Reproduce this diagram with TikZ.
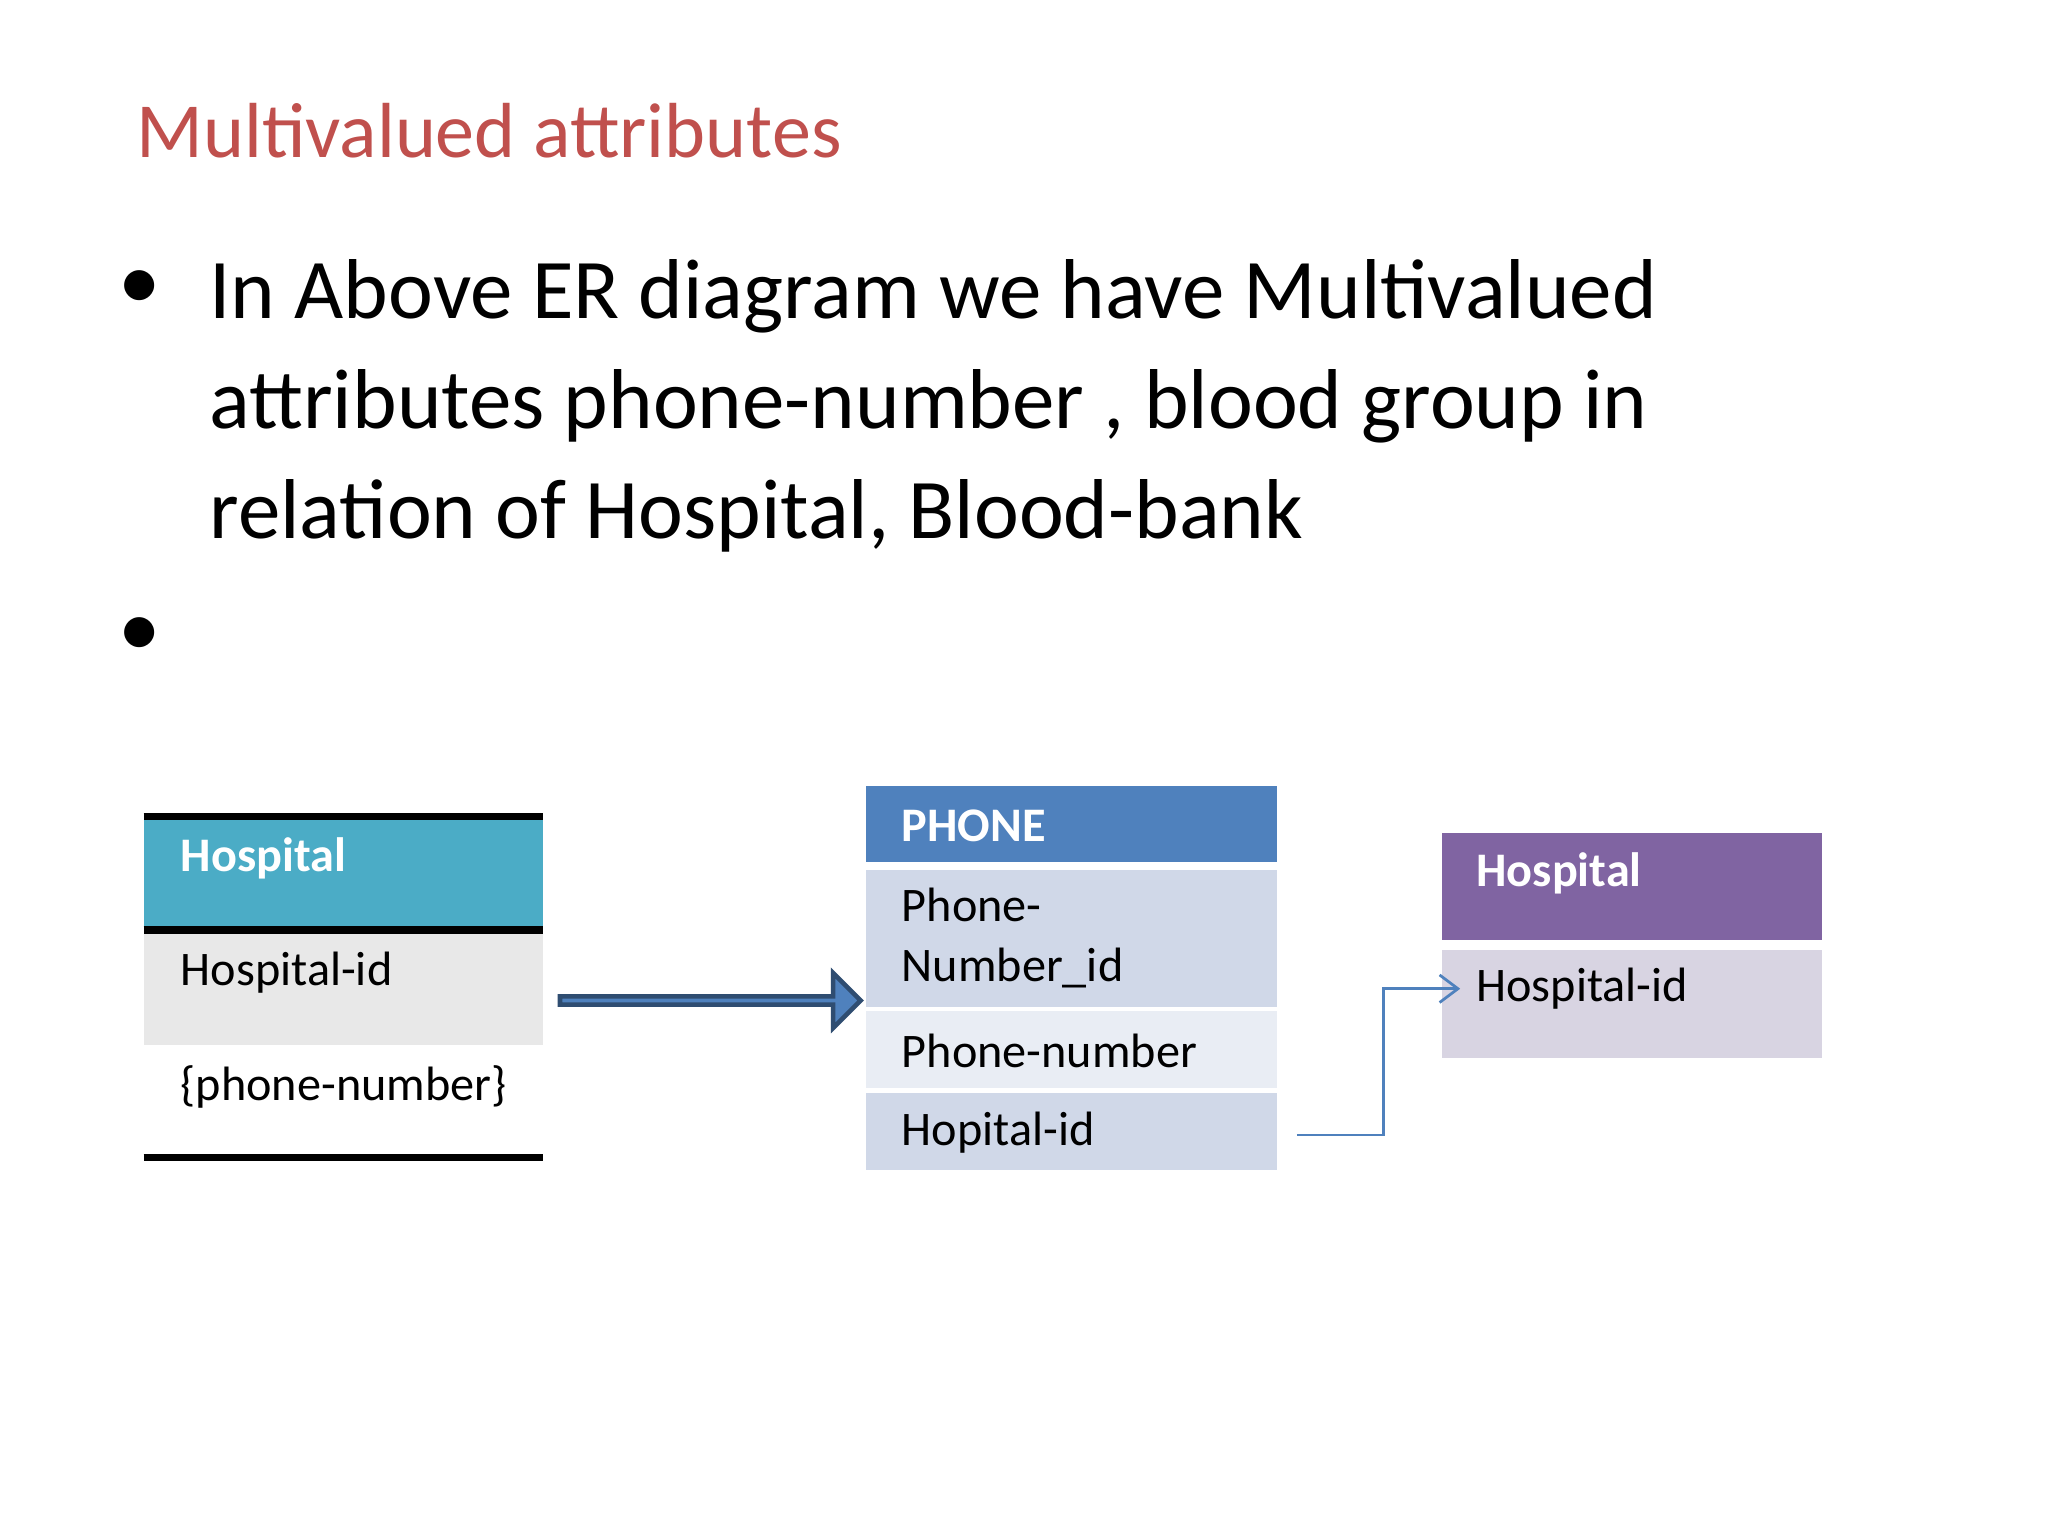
\documentclass[tikz,border=0pt]{standalone}
\usepackage{fontspec}
\setmainfont{Carlito}
\usetikzlibrary{positioning,shapes.arrows,arrows.meta}
\definecolor{TitleRed}{RGB}{192,80,77}
\definecolor{HospTeal}{RGB}{75,172,198}
\definecolor{RowGray}{RGB}{232,232,232}
\definecolor{PhoneBlue}{RGB}{79,129,189}
\definecolor{PhoneRowA}{RGB}{208,216,232}
\definecolor{PhoneRowB}{RGB}{233,237,244}
\definecolor{HospPurple}{RGB}{128,100,162}
\definecolor{PurpleRow}{RGB}{216,212,226}

\begin{document}
\begin{tikzpicture}[x=0.01cm,y=-0.01cm,
                % cells
                cell/.style={anchor=north west, inner sep=0pt, outer sep=0pt, text depth=0pt},
                celltext/.style={anchor=west, font=\fontsize{10.5pt}{13pt}\selectfont, text=black, align=left},
                headtext/.style={anchor=west, font=\fontsize{10.5pt}{13pt}\selectfont\bfseries, text=white},
                thickrule/.style={line width=1.6pt, black},
                link/.style={draw=PhoneBlue, line width=0.6pt, -{Straight Barb[length=4pt,width=6pt]}}
            ]
                \useasboundingbox (0,0) rectangle (1568,1176);

                % --- title and bullets ---
                \node[anchor=west, text=TitleRed, font=\fontsize{17pt}{20pt}\selectfont] (title) at (92,100) {Multivalued attributes};
                \node[anchor=north west, align=left, font=\fontsize{18.5pt}{24pt}\selectfont] (body) at (148,186)
                    {In Above ER diagram we have Multivalued\\attributes phone-number , blood group in\\relation of Hospital, Blood-bank};
                \node[font=\fontsize{18.5pt}{24pt}\selectfont] (dot1) at (107,222) {\textbullet};
                \node[font=\fontsize{18.5pt}{24pt}\selectfont] (dot2) at (107,488) {\textbullet};

                % --- left table ---
                \fill[HospTeal] (110,625) rectangle (416,712);
                \fill[RowGray] (110,712) rectangle (416,800);
                \draw[thickrule] (110,625) -- (416,625);
                \draw[thickrule] (110,712) -- (416,712);
                \draw[thickrule] (110,886) -- (416,886);
                \node[headtext] (hosp) at (126,657) {Hospital};
                \node[celltext] (hid) at (126,745) {Hospital-id};
                \node[celltext] (pnum) at (126,832) {\{phone-number\}};

                % --- block arrow ---
                \node[single arrow, draw=PhoneBlue!60!black, fill=PhoneBlue, line width=1pt,
                      minimum height=6.9cm/3, minimum width=0.42cm, single arrow head extend=0.1cm,
                      inner sep=0pt, anchor=west] (bigarrow) at (427,766) {};

                % --- PHONE table ---
                \fill[PhoneBlue] (663,602) rectangle (978,660);
                \fill[PhoneRowA] (663,666) rectangle (978,771);
                \fill[PhoneRowB] (663,774) rectangle (978,833);
                \fill[PhoneRowA] (663,837) rectangle (978,896);
                \node[headtext] (phone) at (678,632) {PHONE};
                \node[celltext] (pnid) at (678,718) {Phone-\\Number\_id};
                \node[celltext] (pnr) at (678,805) {Phone-number};
                \node[celltext] (phid) at (678,867) {Hopital-id};

                % --- right table ---
                \fill[HospPurple] (1104,638) rectangle (1395,720);
                \fill[PurpleRow] (1104,727) rectangle (1395,810);
                \node[headtext] (hosp2) at (1118,669) {Hospital};
                \node[celltext] (hid2) at (1118,757) {Hospital-id};

                % --- foreign key link ---
                \coordinate (fkstart) at (993,869);
                \draw[link] (fkstart) -- (1059,869) |- (hid2.west);
            \end{tikzpicture}
\end{document}
